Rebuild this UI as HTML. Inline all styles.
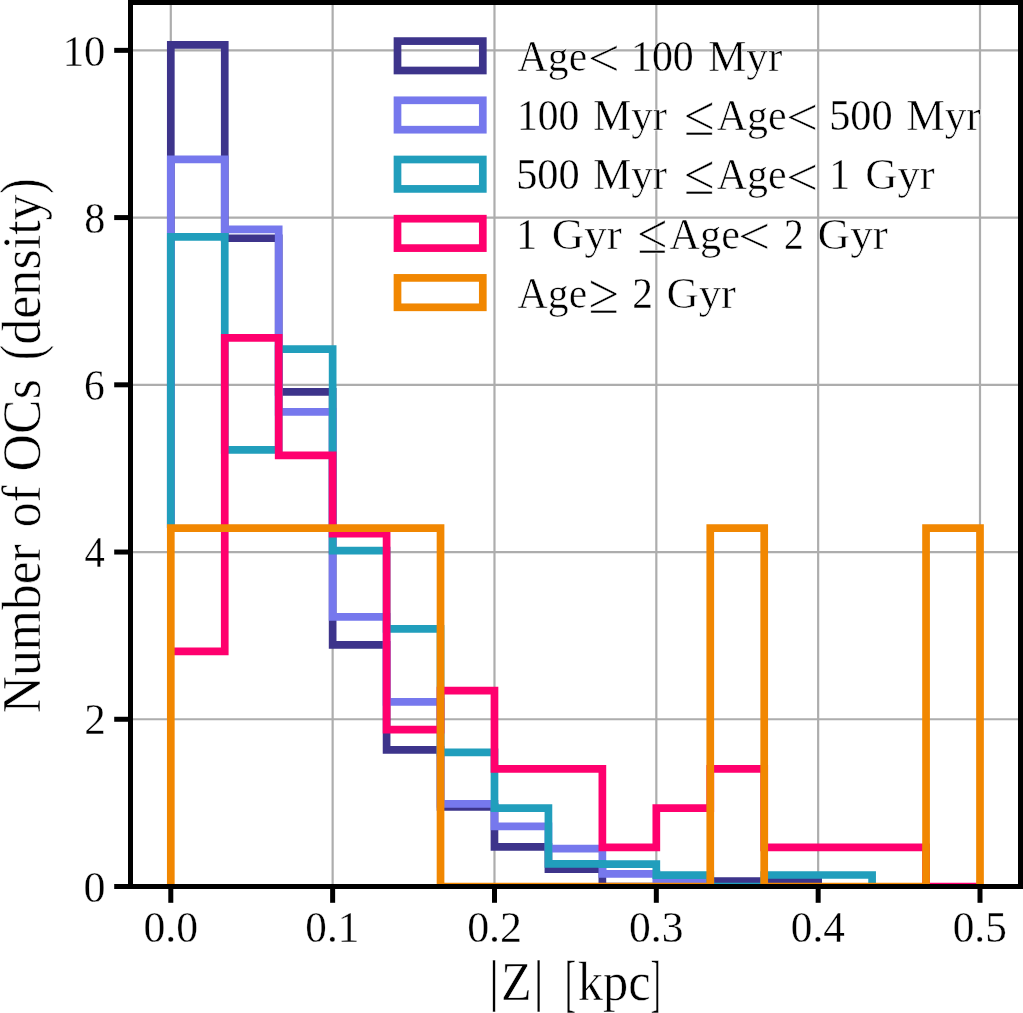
<!DOCTYPE html>
<html lang="en"><head><meta charset="utf-8"><title>|Z| histogram of open clusters by age</title>
<style>html,body{margin:0;padding:0;background:#fff}body{width:1023px;height:1013px;overflow:hidden}svg{display:block}text{font-family:"Liberation Serif","DejaVu Serif",serif;fill:#000;stroke:#fff;stroke-width:0.55px}.d{stroke-width:0.3px}</style>
</head><body>
<svg width="1023" height="1013" viewBox="0 0 1023 1013">
<rect x="0" y="0" width="1023" height="1013" fill="#ffffff"/>
<defs><clipPath id="ax"><rect x="130.5" y="2.5" width="890" height="884"/></clipPath></defs>
<g stroke="#adadad" stroke-width="2.2" fill="none" clip-path="url(#ax)">
<line x1="170.8" y1="2.5" x2="170.8" y2="886.5"/>
<line x1="332.64" y1="2.5" x2="332.64" y2="886.5"/>
<line x1="494.48" y1="2.5" x2="494.48" y2="886.5"/>
<line x1="656.32" y1="2.5" x2="656.32" y2="886.5"/>
<line x1="818.16" y1="2.5" x2="818.16" y2="886.5"/>
<line x1="980" y1="2.5" x2="980" y2="886.5"/>
<line x1="130.5" y1="886.5" x2="1020.5" y2="886.5"/>
<line x1="130.5" y1="719.27" x2="1020.5" y2="719.27"/>
<line x1="130.5" y1="552.04" x2="1020.5" y2="552.04"/>
<line x1="130.5" y1="384.81" x2="1020.5" y2="384.81"/>
<line x1="130.5" y1="217.58" x2="1020.5" y2="217.58"/>
<line x1="130.5" y1="50.35" x2="1020.5" y2="50.35"/>
</g>
<g fill="none" stroke-width="7.7" stroke-linejoin="miter" stroke-linecap="butt" clip-path="url(#ax)">
<path d="M170.8 528.15 L170.8 44.83 L224.75 44.83 L224.75 238.23 L278.69 238.23 L278.69 391.83 L332.64 391.83 L332.64 644.94 L386.59 644.94 L386.59 749.87 L440.53 749.87 L440.53 806.81 L494.48 806.81 L494.48 846.8 L548.43 846.8 L548.43 869.19 L602.37 869.19 L602.37 886.5 L656.32 886.5 L710.27 886.5 L710.27 881.15 L764.21 881.15 L818.16 881.15 L818.16 886.5" stroke="#3d348b"/>
<path d="M170.8 528.15 L170.8 159.38 L224.75 159.38 L224.75 229.45 L278.69 229.45 L278.69 411.9 L332.64 411.9 L332.64 616.84 L386.59 616.84 L386.59 701.88 L440.53 701.88 L440.53 803.89 L494.48 803.89 L494.48 826.3 L548.43 826.3 L548.43 848.71 L602.37 848.71 L602.37 873.79 L656.32 873.79 L656.32 882.74 L710.27 882.74 L710.27 886.5" stroke="#7678ed"/>
<path d="M170.8 528.15 L170.8 236.81 L224.75 236.81 L224.75 449.86 L278.69 449.86 L278.69 349.11 L332.64 349.11 L332.64 550.53 L386.59 550.53 L386.59 628.97 L440.53 628.97 L440.53 752.3 L494.48 752.3 L494.48 808.09 L548.43 808.09 L548.43 863.8 L602.37 863.8 L602.37 864.17 L656.32 864.17 L656.32 875.21 L710.27 875.21 L710.27 886.5 L764.21 886.5 L764.21 875 L818.16 875 L872.11 875 L872.11 886.5" stroke="#219ebc"/>
<path d="M170.8 651.33 L224.75 651.33 L224.75 337.78 L278.69 337.78 L278.69 455.36 L332.64 455.36 L332.64 533.75 L386.59 533.75 L386.59 729.72 L440.53 729.72 L440.53 690.53 L494.48 690.53 L494.48 768.92 L548.43 768.92 L602.37 768.92 L602.37 847.31 L656.32 847.31 L656.32 808.11 L710.27 808.11 L710.27 768.92 L764.21 768.92 L764.21 847.31 L818.16 847.31 L872.11 847.31 L926.05 847.31 L926.05 886.5 L980 886.5" stroke="#ff006e"/>
<path d="M170.8 886.5 L170.8 528.15 L224.75 528.15 L278.69 528.15 L332.64 528.15 L386.59 528.15 L440.53 528.15 L440.53 886.5 L494.48 886.5 L548.43 886.5 L602.37 886.5 L656.32 886.5 L710.27 886.5 L710.27 528.15 L764.21 528.15 L764.21 886.5 L818.16 886.5 L872.11 886.5 L926.05 886.5 L926.05 528.15 L980 528.15 L980 886.5" stroke="#f18701"/>
</g>
<rect x="130.5" y="2.5" width="890" height="884" fill="none" stroke="#000" stroke-width="5"/>
<g stroke="#000" stroke-width="5" fill="none">
<line x1="170.8" y1="886.5" x2="170.8" y2="902.8"/>
<line x1="332.64" y1="886.5" x2="332.64" y2="902.8"/>
<line x1="494.48" y1="886.5" x2="494.48" y2="902.8"/>
<line x1="656.32" y1="886.5" x2="656.32" y2="902.8"/>
<line x1="818.16" y1="886.5" x2="818.16" y2="902.8"/>
<line x1="980" y1="886.5" x2="980" y2="902.8"/>
<line x1="130.5" y1="886.5" x2="114.2" y2="886.5"/>
<line x1="130.5" y1="719.27" x2="114.2" y2="719.27"/>
<line x1="130.5" y1="552.04" x2="114.2" y2="552.04"/>
<line x1="130.5" y1="384.81" x2="114.2" y2="384.81"/>
<line x1="130.5" y1="217.58" x2="114.2" y2="217.58"/>
<line x1="130.5" y1="50.35" x2="114.2" y2="50.35"/>
</g>
<g fill="none" stroke-width="7.7">
<rect x="397.5" y="41.1" width="85.3" height="29.4" stroke="#3d348b"/>
<rect x="397.5" y="100.3" width="85.3" height="29.4" stroke="#7678ed"/>
<rect x="397.5" y="159.5" width="85.3" height="29.4" stroke="#219ebc"/>
<rect x="397.5" y="218.7" width="85.3" height="29.4" stroke="#ff006e"/>
<rect x="397.5" y="277.9" width="85.3" height="29.4" stroke="#f18701"/>
</g>
<g>
<text class="d" x="143.46" y="942.3" font-size="44" textLength="54.63" lengthAdjust="spacingAndGlyphs">0.0</text>
<text class="d" x="305.32" y="942.3" font-size="44" textLength="53.91" lengthAdjust="spacingAndGlyphs">0.1</text>
<text class="d" x="467.13" y="942.3" font-size="44" textLength="54.95" lengthAdjust="spacingAndGlyphs">0.2</text>
<text class="d" x="628.99" y="942.3" font-size="44" textLength="54.47" lengthAdjust="spacingAndGlyphs">0.3</text>
<text class="d" x="790.84" y="942.3" font-size="44" textLength="54.06" lengthAdjust="spacingAndGlyphs">0.4</text>
<text class="d" x="952.68" y="942.3" font-size="44" textLength="54.15" lengthAdjust="spacingAndGlyphs">0.5</text>
</g>
<g>
<text class="d" x="83.45" y="901.7" font-size="44" textLength="22" lengthAdjust="spacingAndGlyphs">0</text>
<text class="d" x="84.25" y="734.47" font-size="44" textLength="21.5" lengthAdjust="spacingAndGlyphs">2</text>
<text class="d" x="84.61" y="567.24" font-size="44" textLength="20.28" lengthAdjust="spacingAndGlyphs">4</text>
<text class="d" x="84.01" y="400.01" font-size="44" textLength="20.77" lengthAdjust="spacingAndGlyphs">6</text>
<text class="d" x="84.23" y="232.78" font-size="44" textLength="21.05" lengthAdjust="spacingAndGlyphs">8</text>
<text class="d" x="62.77" y="65.55" font-size="44" textLength="42.63" lengthAdjust="spacingAndGlyphs">10</text>
</g>
<text><tspan x="517.62" y="70.9" font-size="44" textLength="69.66" lengthAdjust="spacingAndGlyphs">Age</tspan><tspan x="587.66" y="76.2" font-size="53" textLength="31.96" lengthAdjust="spacingAndGlyphs">&lt;</tspan> <tspan class="d" x="631.04" y="70.9" font-size="44" textLength="62.73" lengthAdjust="spacingAndGlyphs">100</tspan> <tspan x="707.97" y="70.9" font-size="44" textLength="74.3" lengthAdjust="spacingAndGlyphs">Myr</tspan></text>
<text><tspan class="d" x="516.97" y="130.1" font-size="44" textLength="62.18" lengthAdjust="spacingAndGlyphs">100</tspan> <tspan x="593.08" y="130.1" font-size="44" textLength="74.1" lengthAdjust="spacingAndGlyphs">Myr</tspan> <tspan x="683.79" y="135" font-size="57" textLength="30.77" lengthAdjust="spacingAndGlyphs">≤</tspan><tspan x="716.72" y="130.1" font-size="44" textLength="69.97" lengthAdjust="spacingAndGlyphs">Age</tspan><tspan x="785.94" y="135.4" font-size="53" textLength="32.21" lengthAdjust="spacingAndGlyphs">&lt;</tspan> <tspan class="d" x="829.2" y="130.1" font-size="44" textLength="63.49" lengthAdjust="spacingAndGlyphs">500</tspan> <tspan x="906.17" y="130.1" font-size="44" textLength="74.61" lengthAdjust="spacingAndGlyphs">Myr</tspan></text>
<text><tspan class="d" x="516.2" y="189.3" font-size="44" textLength="63.49" lengthAdjust="spacingAndGlyphs">500</tspan> <tspan x="593.08" y="189.3" font-size="44" textLength="74.1" lengthAdjust="spacingAndGlyphs">Myr</tspan> <tspan x="683.79" y="194.2" font-size="57" textLength="30.77" lengthAdjust="spacingAndGlyphs">≤</tspan><tspan x="716.72" y="189.3" font-size="44" textLength="69.97" lengthAdjust="spacingAndGlyphs">Age</tspan><tspan x="785.94" y="194.6" font-size="53" textLength="32.21" lengthAdjust="spacingAndGlyphs">&lt;</tspan> <tspan class="d" x="829.37" y="189.3" font-size="44" textLength="20.72" lengthAdjust="spacingAndGlyphs">1</tspan> <tspan x="865.32" y="189.3" font-size="44" textLength="69.42" lengthAdjust="spacingAndGlyphs">Gyr</tspan></text>
<text><tspan class="d" x="516.27" y="248.5" font-size="44" textLength="20.72" lengthAdjust="spacingAndGlyphs">1</tspan> <tspan x="551.71" y="248.5" font-size="44" textLength="69.94" lengthAdjust="spacingAndGlyphs">Gyr</tspan> <tspan x="637.34" y="253.4" font-size="57" textLength="30.07" lengthAdjust="spacingAndGlyphs">≤</tspan><tspan x="669.52" y="248.5" font-size="44" textLength="70.48" lengthAdjust="spacingAndGlyphs">Age</tspan><tspan x="737.93" y="253.8" font-size="53" textLength="32.33" lengthAdjust="spacingAndGlyphs">&lt;</tspan> <tspan class="d" x="784.11" y="248.5" font-size="44" textLength="19.74" lengthAdjust="spacingAndGlyphs">2</tspan> <tspan x="817.6" y="248.5" font-size="44" textLength="70.25" lengthAdjust="spacingAndGlyphs">Gyr</tspan></text>
<text><tspan x="517.62" y="307.7" font-size="44" textLength="69.66" lengthAdjust="spacingAndGlyphs">Age</tspan><tspan x="588.4" y="312.6" font-size="57" textLength="30.65" lengthAdjust="spacingAndGlyphs">≥</tspan> <tspan class="d" x="632.23" y="307.7" font-size="44" textLength="20.62" lengthAdjust="spacingAndGlyphs">2</tspan> <tspan x="666.52" y="307.7" font-size="44" textLength="69.42" lengthAdjust="spacingAndGlyphs">Gyr</tspan></text>
<text><tspan x="488.27" y="1000.1" font-size="57" textLength="11.63" lengthAdjust="spacingAndGlyphs">|</tspan><tspan x="500.98" y="999.5" font-size="55" textLength="30.76" lengthAdjust="spacingAndGlyphs">Z</tspan><tspan x="532.67" y="1000.1" font-size="57" textLength="11.63" lengthAdjust="spacingAndGlyphs">|</tspan> <tspan x="564.84" y="1004.2" font-size="62.5" textLength="11.21" lengthAdjust="spacingAndGlyphs">[</tspan><tspan x="577.78" y="999.5" font-size="55" textLength="72.85" lengthAdjust="spacingAndGlyphs">kpc</tspan><tspan x="650.64" y="1004.2" font-size="62.5" textLength="9.82" lengthAdjust="spacingAndGlyphs">]</tspan></text>
<text transform="rotate(-90)"><tspan x="-713.31" y="40.2" font-size="55" textLength="169.06" lengthAdjust="spacingAndGlyphs">Number</tspan> <tspan x="-527.22" y="40.2" font-size="55" textLength="41.69" lengthAdjust="spacingAndGlyphs">of</tspan> <tspan x="-471.42" y="40.2" font-size="55" textLength="92.27" lengthAdjust="spacingAndGlyphs">OCs</tspan> <tspan x="-359.94" y="41.1" font-size="60" textLength="14.81" lengthAdjust="spacingAndGlyphs">(</tspan><tspan x="-344.79" y="40.2" font-size="55" textLength="150.43" lengthAdjust="spacingAndGlyphs">density</tspan><tspan x="-193.82" y="41.1" font-size="60" textLength="15.2" lengthAdjust="spacingAndGlyphs">)</tspan></text>
</svg>
</body></html>
